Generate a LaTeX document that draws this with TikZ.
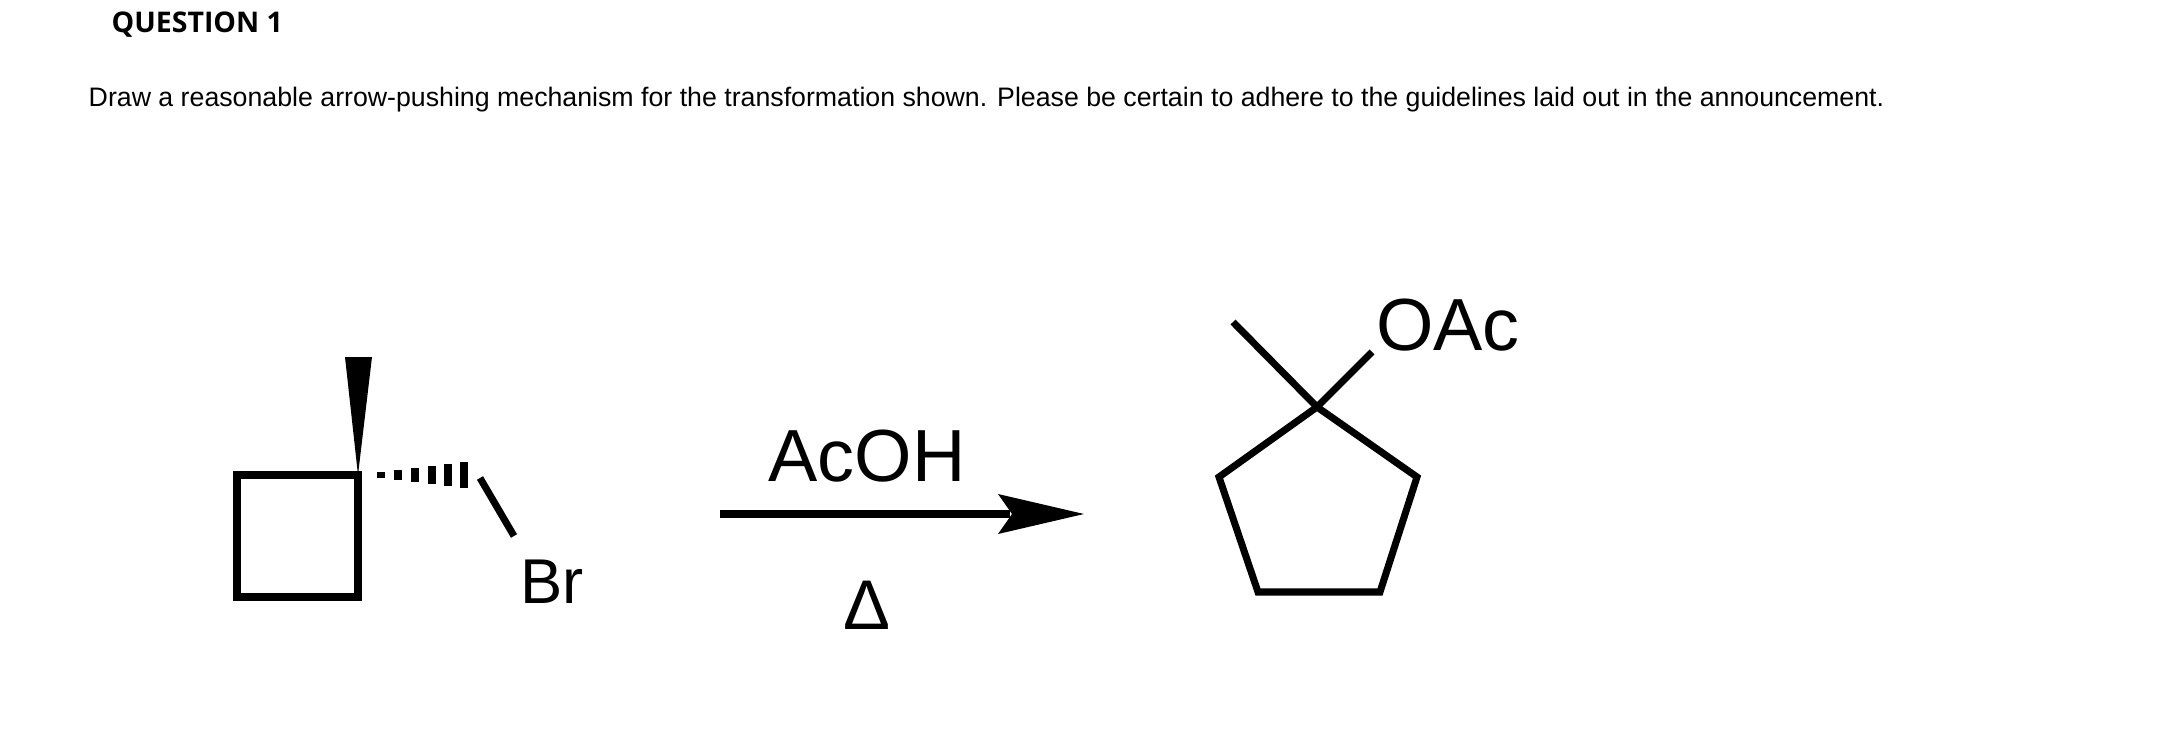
\documentclass[tikz,border=0pt]{standalone}
\usepackage{fontspec}
\setmainfont{Liberation Sans}
\newfontfamily\titlefont{Open Sans}
\begin{document}
\begin{tikzpicture}[x=0.01cm,y=-0.01cm,
  bond/.style={line width=2pt,line join=miter},
  lbl/.style={inner sep=0pt,font=\fontsize{21}{21}\selectfont}]
\useasboundingbox (0,0) rectangle (2168,736);
\node[anchor=west,inner sep=0pt,font=\titlefont\bfseries\fontsize{8.1}{10}\selectfont] (title) at (111,25) {QUESTION 1};
\node[anchor=west,inner sep=0pt,font=\fontsize{7.6}{9}\selectfont] (q) at (88,100) {Draw a reasonable arrow-pushing mechanism for the transformation shown. Please be certain to adhere to the guidelines laid out in the announcement.};
% cyclobutane
\draw[bond] (237,475) rectangle (358,597);
\fill (345,357) -- (372,357) -- (358,475) -- cycle;
\foreach \x/\h in {381/3,398/5,415/7,432/9,448/11,464/13}
  \fill (\x-4,475-\h) rectangle (\x+4,475+\h);
\node[lbl,font=\fontsize{18}{18}\selectfont] (br) at (552,582) {Br};
\draw[bond] (480,478) -- (514,536);
% arrow
\node[lbl] (acoh) at (867,456) {AcOH};
\node[lbl,font=\fontsize{20}{20}\selectfont] (delta) at (867,605) {Δ};
\coordinate (a1) at (720,514);
\coordinate (a2) at (1084,514);
\draw[line width=2pt] (a1) -- (1010,514);
\fill (998,494) -- (a2) -- (998,534) -- (1012,514) -- cycle;
% product
\coordinate (c) at (1317,407);
\draw[bond] (c) -- (1233,322);
\draw[bond] (c) -- (1372,352);
\node[lbl] (oac) at (1448,325) {OAc};
\draw[bond] (c) -- (1417,477) -- (1380,592) -- (1258,592) -- (1219,477) -- cycle;
\end{tikzpicture}
\end{document}
